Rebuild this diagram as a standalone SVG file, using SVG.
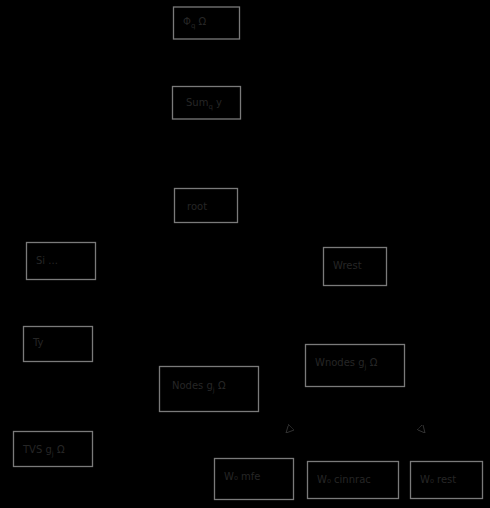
<svg xmlns="http://www.w3.org/2000/svg" width="490" height="508" viewBox="0 0 490 508">
<defs>
<style>
.box{fill:none;stroke:#7a7a7a;stroke-width:1.3}
.lbl{font-family:"DejaVu Sans",sans-serif;font-size:10px;fill:#262626}
.sub{font-size:7px}
.edge{fill:none;stroke:#000;stroke-width:1}
</style>
<marker id="ah" viewBox="0 0 10 10" refX="10" refY="5" markerWidth="8" markerHeight="8" orient="auto">
<path d="M0,0 L10,5 L0,10 z" fill="#000"/>
</marker>
<marker id="ahd" viewBox="0 0 10 10" refX="10" refY="5" markerWidth="8" markerHeight="8" orient="auto">
<path d="M0,0 L10,5 L0,10 z" fill="#000" stroke="#4a4a4a" stroke-width="0.8"/>
</marker>
</defs>
<rect x="0" y="0" width="490" height="508" fill="#000"/>
<g id="connectors">
<line class="edge" x1="206" y1="39" x2="206" y2="86" marker-end="url(#ah)"/>
<line class="edge" x1="206" y1="119" x2="206" y2="188" marker-end="url(#ah)"/>
<line class="edge" x1="206" y1="222" x2="206" y2="366" marker-end="url(#ah)"/>
<line class="edge" x1="60" y1="280" x2="58" y2="326" marker-end="url(#ah)"/>
<line class="edge" x1="55" y1="361" x2="53" y2="431" marker-end="url(#ah)"/>
<line class="edge" x1="92" y1="344" x2="159" y2="385" marker-end="url(#ah)"/>
<line class="edge" x1="355" y1="285" x2="355" y2="344" marker-end="url(#ah)"/>
<line class="edge" x1="330" y1="386" x2="286" y2="433" marker-end="url(#ahd)"/>
<line class="edge" x1="353" y1="386" x2="353" y2="461" marker-end="url(#ah)"/>
<line class="edge" x1="385" y1="386" x2="425" y2="433" marker-end="url(#ahd)"/>
</g>
<g id="n1"><rect class="box" x="173.5" y="7" width="66" height="32"/><text class="lbl" x="183" y="25">Φ<tspan class="sub" dy="3">q</tspan><tspan dy="-3"> Ω</tspan></text></g>
<g id="n2"><rect class="box" x="172.5" y="86.5" width="68" height="32.5"/><text class="lbl" x="186" y="106">Sum<tspan class="sub" dy="3">q</tspan><tspan dy="-3"> y</tspan></text></g>
<g id="n3"><rect class="box" x="174.5" y="188.5" width="63" height="34"/><text class="lbl" x="187" y="210">root</text></g>
<g id="n4"><rect class="box" x="26.5" y="242.5" width="69" height="37"/><text class="lbl" x="36" y="264">Si  ...</text></g>
<g id="n5"><rect class="box" x="23.5" y="326.5" width="69" height="35"/><text class="lbl" x="33" y="346">Ty</text></g>
<g id="n6"><rect class="box" x="13.5" y="431.5" width="79" height="35"/><text class="lbl" x="23" y="453">TVS g<tspan class="sub" dy="3">j</tspan><tspan dy="-3"> Ω</tspan></text></g>
<g id="n7"><rect class="box" x="159.5" y="366.5" width="99" height="45"/><text class="lbl" x="172" y="389">Nodes g<tspan class="sub" dy="3">j</tspan><tspan dy="-3"> Ω</tspan></text></g>
<g id="n8"><rect class="box" x="323.5" y="247.5" width="63" height="38"/><text class="lbl" x="333" y="269">Wrest</text></g>
<g id="n9"><rect class="box" x="305.5" y="344.5" width="99" height="42"/><text class="lbl" x="315" y="366">Wnodes g<tspan class="sub" dy="3">j</tspan><tspan dy="-3"> Ω</tspan></text></g>
<g id="n10"><rect class="box" x="214.5" y="458.5" width="79" height="41"/><text class="lbl" x="224" y="480">W₀  mfe</text></g>
<g id="n11"><rect class="box" x="307.5" y="461.5" width="91" height="37"/><text class="lbl" x="317" y="483">W₀  cinnrac</text></g>
<g id="n12"><rect class="box" x="410.5" y="461.5" width="72" height="37"/><text class="lbl" x="420" y="483">W₀  rest</text></g>
</svg>
